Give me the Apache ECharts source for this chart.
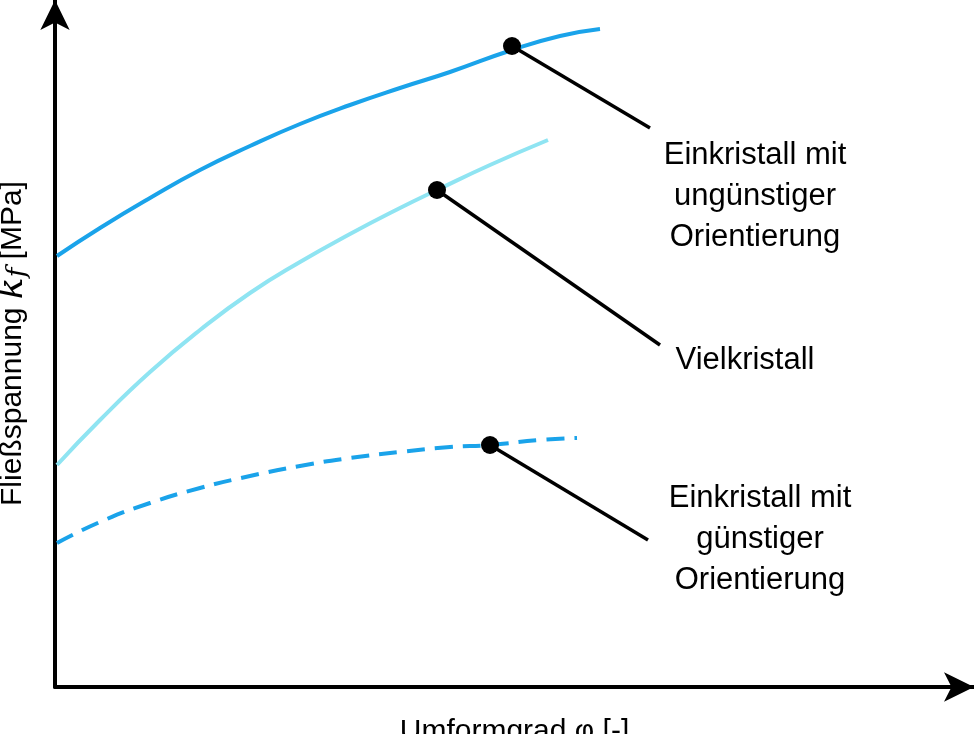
<!DOCTYPE html>
<html><head><meta charset="utf-8">
<script src="https://cdn.jsdelivr.net/npm/echarts@6/dist/echarts.min.js"></script>
<style>html,body{margin:0;padding:0;background:#fff}#c{width:974px;height:734px}</style>
</head><body><div id="c"></div>
<script>
// data in plot units (x: 0..919, y: 0..687)
const topCurve = [[2,431],[45,459],[95,489],[145,517],[195,541],[245,563],[295,582],[345,599],[395,615],[457,637],[505,651],[545,658]];
const midCurve = [[2,222],[45,267],[95,315],[145,357],[195,394],[245,425],[295,453],[345,479],[382,497],[435,522],[493,547]];
const lowCurve = [[2,144],[45,165],[95,184],[145,199],[195,211],[245,221],[295,229],[345,235],[395,240],[435,242],[485,247],[522,249]];
const dots = [[457,641],[382,497],[435,242]];
const leaders = [[[457,641],[595,559]],[[382,497],[605,342]],[[435,242],[593,147]]];
const labels = [
  {text:'Einkristall mit\nungünstiger\nOrientierung', x:755, y:196},
  {text:'Vielkristall', x:745, y:360},
  {text:'Einkristall mit\ngünstiger\nOrientierung', x:760, y:539}
];
const chart = echarts.init(document.getElementById('c'));
const series = [
  {type:'line',data:topCurve,smooth:true,symbol:'none',lineStyle:{color:'#1aa3ea',width:4}},
  {type:'line',data:midCurve,smooth:true,symbol:'none',lineStyle:{color:'#8fe4f2',width:4}},
  {type:'line',data:lowCurve,smooth:true,symbol:'none',lineStyle:{color:'#1aa3ea',width:4,type:[18,10]}}
];
leaders.forEach(l=>series.push({type:'line',data:l,symbol:'none',lineStyle:{color:'#000',width:3.5}}));
series.push({type:'scatter',data:dots,symbolSize:18,itemStyle:{color:'#000',opacity:1},z:5});
chart.setOption({
  animation:false,
  grid:{left:55,right:0,top:0,bottom:47,containLabel:false,outerBoundsMode:'none'},
  xAxis:{type:'value',min:0,max:919,axisLine:{lineStyle:{color:'#000',width:4},symbol:['none','arrow'],symbolSize:[22,30]},
    axisTick:{show:false},axisLabel:{show:false},splitLine:{show:false},
    name:'Umformgrad φ [-]',nameLocation:'middle',nameGap:30,nameTextStyle:{fontSize:30,color:'#000',fontFamily:'Liberation Sans'}},
  yAxis:{type:'value',min:0,max:687,axisLine:{lineStyle:{color:'#000',width:4},symbol:['none','arrow'],symbolSize:[22,30]},
    axisTick:{show:false},axisLabel:{show:false},splitLine:{show:false},
    name:'Fließspannung {k|k}{f|f} [MPa]',nameLocation:'middle',nameGap:24,
    nameTextStyle:{fontSize:30,color:'#000',fontFamily:'Liberation Sans',
      rich:{k:{fontSize:36,fontStyle:'italic',fontFamily:'DejaVu Serif',color:'#000'},
            f:{fontSize:26,fontStyle:'italic',fontFamily:'DejaVu Serif',color:'#000',verticalAlign:'bottom'}}}},
  graphic: labels.map(l=>({type:'text',x:l.x,y:l.y,style:{text:l.text,fill:'#000',font:'31px "Liberation Sans"',align:'center',verticalAlign:'middle',lineHeight:41}})),
  series
});
</script></body></html>
